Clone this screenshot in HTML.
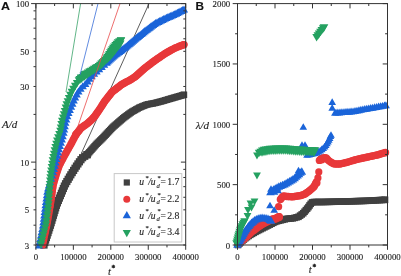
<!DOCTYPE html>
<html><head><meta charset="utf-8"><style>
html,body{margin:0;padding:0;background:#fff;}
svg{display:block;}
text{font-family:"Liberation Serif",serif;fill:#222;stroke:#222;stroke-width:0.12px;}
</style></head><body>
<svg width="401" height="276" viewBox="0 0 401 276">
<rect width="401" height="276" fill="#fff"/>
<line x1="149.00" y1="3.60" x2="81.40" y2="153.30" stroke="#333" stroke-width="0.8"/>
<rect x="40.40" y="241.40" width="7.20" height="7.20" fill="#404040"/>
<rect x="41.20" y="238.93" width="7.20" height="7.20" fill="#404040"/>
<rect x="42.01" y="236.45" width="7.20" height="7.20" fill="#404040"/>
<rect x="42.81" y="233.98" width="7.20" height="7.20" fill="#404040"/>
<rect x="43.61" y="231.51" width="7.20" height="7.20" fill="#404040"/>
<rect x="44.42" y="229.04" width="7.20" height="7.20" fill="#404040"/>
<rect x="45.22" y="226.56" width="7.20" height="7.20" fill="#404040"/>
<rect x="46.03" y="224.09" width="7.20" height="7.20" fill="#404040"/>
<rect x="46.83" y="221.62" width="7.20" height="7.20" fill="#404040"/>
<rect x="47.58" y="219.13" width="7.20" height="7.20" fill="#404040"/>
<rect x="48.33" y="216.64" width="7.20" height="7.20" fill="#404040"/>
<rect x="49.08" y="214.15" width="7.20" height="7.20" fill="#404040"/>
<rect x="49.82" y="211.66" width="7.20" height="7.20" fill="#404040"/>
<rect x="50.57" y="209.17" width="7.20" height="7.20" fill="#404040"/>
<rect x="51.32" y="206.68" width="7.20" height="7.20" fill="#404040"/>
<rect x="52.06" y="204.19" width="7.20" height="7.20" fill="#404040"/>
<rect x="52.81" y="201.70" width="7.20" height="7.20" fill="#404040"/>
<rect x="53.78" y="199.29" width="7.20" height="7.20" fill="#404040"/>
<rect x="54.77" y="196.88" width="7.20" height="7.20" fill="#404040"/>
<rect x="55.77" y="194.48" width="7.20" height="7.20" fill="#404040"/>
<rect x="56.77" y="192.08" width="7.20" height="7.20" fill="#404040"/>
<rect x="57.76" y="189.68" width="7.20" height="7.20" fill="#404040"/>
<rect x="58.76" y="187.28" width="7.20" height="7.20" fill="#404040"/>
<rect x="59.76" y="184.88" width="7.20" height="7.20" fill="#404040"/>
<rect x="60.75" y="182.48" width="7.20" height="7.20" fill="#404040"/>
<rect x="61.93" y="180.16" width="7.20" height="7.20" fill="#404040"/>
<rect x="63.25" y="177.92" width="7.20" height="7.20" fill="#404040"/>
<rect x="64.57" y="175.68" width="7.20" height="7.20" fill="#404040"/>
<rect x="65.89" y="173.45" width="7.20" height="7.20" fill="#404040"/>
<rect x="67.22" y="171.21" width="7.20" height="7.20" fill="#404040"/>
<rect x="68.61" y="169.01" width="7.20" height="7.20" fill="#404040"/>
<rect x="70.00" y="166.82" width="7.20" height="7.20" fill="#404040"/>
<rect x="71.42" y="164.63" width="7.20" height="7.20" fill="#404040"/>
<rect x="72.87" y="162.48" width="7.20" height="7.20" fill="#404040"/>
<rect x="74.32" y="160.32" width="7.20" height="7.20" fill="#404040"/>
<rect x="75.83" y="158.21" width="7.20" height="7.20" fill="#404040"/>
<rect x="77.36" y="156.10" width="7.20" height="7.20" fill="#404040"/>
<rect x="79.01" y="154.12" width="7.20" height="7.20" fill="#404040"/>
<rect x="81.16" y="152.66" width="7.20" height="7.20" fill="#404040"/>
<rect x="83.31" y="151.20" width="7.20" height="7.20" fill="#404040"/>
<rect x="83.60" y="151.00" width="7.20" height="7.20" fill="#404040"/>
<rect x="84.00" y="151.40" width="6.40" height="6.40" fill="#404040"/>
<rect x="85.06" y="150.20" width="6.40" height="6.40" fill="#404040"/>
<rect x="86.11" y="148.99" width="6.40" height="6.40" fill="#404040"/>
<rect x="87.17" y="147.79" width="6.40" height="6.40" fill="#404040"/>
<rect x="88.22" y="146.59" width="6.40" height="6.40" fill="#404040"/>
<rect x="89.28" y="145.39" width="6.40" height="6.40" fill="#404040"/>
<rect x="90.33" y="144.18" width="6.40" height="6.40" fill="#404040"/>
<rect x="91.39" y="142.98" width="6.40" height="6.40" fill="#404040"/>
<rect x="92.44" y="141.78" width="6.40" height="6.40" fill="#404040"/>
<rect x="93.51" y="140.59" width="6.40" height="6.40" fill="#404040"/>
<rect x="94.67" y="139.48" width="6.40" height="6.40" fill="#404040"/>
<rect x="95.82" y="138.37" width="6.40" height="6.40" fill="#404040"/>
<rect x="96.97" y="137.26" width="6.40" height="6.40" fill="#404040"/>
<rect x="98.12" y="136.15" width="6.40" height="6.40" fill="#404040"/>
<rect x="99.26" y="135.02" width="6.40" height="6.40" fill="#404040"/>
<rect x="100.35" y="133.86" width="6.40" height="6.40" fill="#404040"/>
<rect x="101.45" y="132.69" width="6.40" height="6.40" fill="#404040"/>
<rect x="102.54" y="131.53" width="6.40" height="6.40" fill="#404040"/>
<rect x="103.64" y="130.36" width="6.40" height="6.40" fill="#404040"/>
<rect x="104.74" y="129.19" width="6.40" height="6.40" fill="#404040"/>
<rect x="105.83" y="128.03" width="6.40" height="6.40" fill="#404040"/>
<rect x="106.93" y="126.86" width="6.40" height="6.40" fill="#404040"/>
<rect x="108.02" y="125.69" width="6.40" height="6.40" fill="#404040"/>
<rect x="109.12" y="124.53" width="6.40" height="6.40" fill="#404040"/>
<rect x="110.26" y="123.41" width="6.40" height="6.40" fill="#404040"/>
<rect x="111.47" y="122.36" width="6.40" height="6.40" fill="#404040"/>
<rect x="112.68" y="121.32" width="6.40" height="6.40" fill="#404040"/>
<rect x="113.89" y="120.27" width="6.40" height="6.40" fill="#404040"/>
<rect x="115.10" y="119.22" width="6.40" height="6.40" fill="#404040"/>
<rect x="116.31" y="118.18" width="6.40" height="6.40" fill="#404040"/>
<rect x="117.52" y="117.13" width="6.40" height="6.40" fill="#404040"/>
<rect x="118.73" y="116.09" width="6.40" height="6.40" fill="#404040"/>
<rect x="119.94" y="115.04" width="6.40" height="6.40" fill="#404040"/>
<rect x="121.18" y="114.02" width="6.40" height="6.40" fill="#404040"/>
<rect x="122.47" y="113.08" width="6.40" height="6.40" fill="#404040"/>
<rect x="123.76" y="112.13" width="6.40" height="6.40" fill="#404040"/>
<rect x="125.05" y="111.19" width="6.40" height="6.40" fill="#404040"/>
<rect x="126.34" y="110.24" width="6.40" height="6.40" fill="#404040"/>
<rect x="127.63" y="109.29" width="6.40" height="6.40" fill="#404040"/>
<rect x="128.97" y="108.42" width="6.40" height="6.40" fill="#404040"/>
<rect x="130.36" y="107.64" width="6.40" height="6.40" fill="#404040"/>
<rect x="131.76" y="106.86" width="6.40" height="6.40" fill="#404040"/>
<rect x="133.15" y="106.07" width="6.40" height="6.40" fill="#404040"/>
<rect x="134.55" y="105.29" width="6.40" height="6.40" fill="#404040"/>
<rect x="135.94" y="104.50" width="6.40" height="6.40" fill="#404040"/>
<rect x="137.40" y="103.86" width="6.40" height="6.40" fill="#404040"/>
<rect x="138.89" y="103.26" width="6.40" height="6.40" fill="#404040"/>
<rect x="140.37" y="102.67" width="6.40" height="6.40" fill="#404040"/>
<rect x="141.86" y="102.08" width="6.40" height="6.40" fill="#404040"/>
<rect x="143.35" y="101.48" width="6.40" height="6.40" fill="#404040"/>
<rect x="144.89" y="101.10" width="6.40" height="6.40" fill="#404040"/>
<rect x="146.47" y="100.82" width="6.40" height="6.40" fill="#404040"/>
<rect x="148.04" y="100.53" width="6.40" height="6.40" fill="#404040"/>
<rect x="149.62" y="100.25" width="6.40" height="6.40" fill="#404040"/>
<rect x="151.19" y="99.95" width="6.40" height="6.40" fill="#404040"/>
<rect x="152.74" y="99.55" width="6.40" height="6.40" fill="#404040"/>
<rect x="154.29" y="99.16" width="6.40" height="6.40" fill="#404040"/>
<rect x="155.84" y="98.76" width="6.40" height="6.40" fill="#404040"/>
<rect x="157.39" y="98.36" width="6.40" height="6.40" fill="#404040"/>
<rect x="158.94" y="97.96" width="6.40" height="6.40" fill="#404040"/>
<rect x="160.47" y="97.50" width="6.40" height="6.40" fill="#404040"/>
<rect x="162.00" y="97.05" width="6.40" height="6.40" fill="#404040"/>
<rect x="163.54" y="96.59" width="6.40" height="6.40" fill="#404040"/>
<rect x="165.07" y="96.14" width="6.40" height="6.40" fill="#404040"/>
<rect x="166.60" y="95.68" width="6.40" height="6.40" fill="#404040"/>
<rect x="168.14" y="95.24" width="6.40" height="6.40" fill="#404040"/>
<rect x="169.68" y="94.79" width="6.40" height="6.40" fill="#404040"/>
<rect x="171.22" y="94.35" width="6.40" height="6.40" fill="#404040"/>
<rect x="172.75" y="93.90" width="6.40" height="6.40" fill="#404040"/>
<rect x="174.29" y="93.46" width="6.40" height="6.40" fill="#404040"/>
<rect x="175.83" y="93.02" width="6.40" height="6.40" fill="#404040"/>
<rect x="177.37" y="92.58" width="6.40" height="6.40" fill="#404040"/>
<rect x="178.90" y="92.14" width="6.40" height="6.40" fill="#404040"/>
<rect x="180.44" y="91.70" width="6.40" height="6.40" fill="#404040"/>
<rect x="180.80" y="91.60" width="6.40" height="6.40" fill="#404040"/>
<circle cx="42.50" cy="245.00" r="3.70" fill="#e8383a"/>
<circle cx="43.00" cy="242.65" r="3.70" fill="#e8383a"/>
<circle cx="43.51" cy="240.31" r="3.70" fill="#e8383a"/>
<circle cx="44.01" cy="237.96" r="3.70" fill="#e8383a"/>
<circle cx="44.52" cy="235.61" r="3.70" fill="#e8383a"/>
<circle cx="45.02" cy="233.27" r="3.70" fill="#e8383a"/>
<circle cx="45.53" cy="230.92" r="3.70" fill="#e8383a"/>
<circle cx="46.03" cy="228.58" r="3.70" fill="#e8383a"/>
<circle cx="46.54" cy="226.23" r="3.70" fill="#e8383a"/>
<circle cx="47.00" cy="223.87" r="3.70" fill="#e8383a"/>
<circle cx="47.41" cy="221.51" r="3.70" fill="#e8383a"/>
<circle cx="47.82" cy="219.15" r="3.70" fill="#e8383a"/>
<circle cx="48.24" cy="216.78" r="3.70" fill="#e8383a"/>
<circle cx="48.65" cy="214.42" r="3.70" fill="#e8383a"/>
<circle cx="49.07" cy="212.05" r="3.70" fill="#e8383a"/>
<circle cx="49.48" cy="209.69" r="3.70" fill="#e8383a"/>
<circle cx="49.89" cy="207.33" r="3.70" fill="#e8383a"/>
<circle cx="50.31" cy="204.96" r="3.70" fill="#e8383a"/>
<circle cx="50.65" cy="202.59" r="3.70" fill="#e8383a"/>
<circle cx="50.99" cy="200.21" r="3.70" fill="#e8383a"/>
<circle cx="51.34" cy="197.84" r="3.70" fill="#e8383a"/>
<circle cx="51.68" cy="195.46" r="3.70" fill="#e8383a"/>
<circle cx="52.03" cy="193.09" r="3.70" fill="#e8383a"/>
<circle cx="52.37" cy="190.71" r="3.70" fill="#e8383a"/>
<circle cx="52.72" cy="188.34" r="3.70" fill="#e8383a"/>
<circle cx="53.06" cy="185.96" r="3.70" fill="#e8383a"/>
<circle cx="53.59" cy="183.62" r="3.70" fill="#e8383a"/>
<circle cx="54.23" cy="181.31" r="3.70" fill="#e8383a"/>
<circle cx="54.88" cy="179.00" r="3.70" fill="#e8383a"/>
<circle cx="55.53" cy="176.69" r="3.70" fill="#e8383a"/>
<circle cx="56.21" cy="174.39" r="3.70" fill="#e8383a"/>
<circle cx="57.01" cy="172.13" r="3.70" fill="#e8383a"/>
<circle cx="57.80" cy="169.86" r="3.70" fill="#e8383a"/>
<circle cx="58.59" cy="167.60" r="3.70" fill="#e8383a"/>
<circle cx="59.38" cy="165.33" r="3.70" fill="#e8383a"/>
<circle cx="60.46" cy="163.19" r="3.70" fill="#e8383a"/>
<circle cx="61.58" cy="161.07" r="3.70" fill="#e8383a"/>
<circle cx="62.71" cy="158.95" r="3.70" fill="#e8383a"/>
<circle cx="63.83" cy="156.83" r="3.70" fill="#e8383a"/>
<circle cx="64.96" cy="154.71" r="3.70" fill="#e8383a"/>
<circle cx="66.15" cy="152.63" r="3.70" fill="#e8383a"/>
<circle cx="67.34" cy="150.54" r="3.70" fill="#e8383a"/>
<circle cx="68.53" cy="148.46" r="3.70" fill="#e8383a"/>
<circle cx="69.72" cy="146.37" r="3.70" fill="#e8383a"/>
<circle cx="70.88" cy="144.27" r="3.70" fill="#e8383a"/>
<circle cx="72.00" cy="142.15" r="3.70" fill="#e8383a"/>
<circle cx="73.11" cy="140.02" r="3.70" fill="#e8383a"/>
<circle cx="74.22" cy="137.89" r="3.70" fill="#e8383a"/>
<circle cx="75.34" cy="135.77" r="3.70" fill="#e8383a"/>
<circle cx="76.00" cy="134.50" r="3.70" fill="#e8383a"/>
<circle cx="76.00" cy="134.50" r="3.70" fill="#e8383a"/>
<circle cx="76.91" cy="133.31" r="3.70" fill="#e8383a"/>
<circle cx="77.83" cy="132.12" r="3.70" fill="#e8383a"/>
<circle cx="78.74" cy="130.93" r="3.70" fill="#e8383a"/>
<circle cx="79.66" cy="129.74" r="3.70" fill="#e8383a"/>
<circle cx="80.57" cy="128.56" r="3.70" fill="#e8383a"/>
<circle cx="81.65" cy="127.54" r="3.70" fill="#e8383a"/>
<circle cx="82.88" cy="126.68" r="3.70" fill="#e8383a"/>
<circle cx="84.11" cy="125.82" r="3.70" fill="#e8383a"/>
<circle cx="85.34" cy="124.96" r="3.70" fill="#e8383a"/>
<circle cx="86.57" cy="124.10" r="3.70" fill="#e8383a"/>
<circle cx="87.73" cy="123.15" r="3.70" fill="#e8383a"/>
<circle cx="88.85" cy="122.16" r="3.70" fill="#e8383a"/>
<circle cx="89.97" cy="121.16" r="3.70" fill="#e8383a"/>
<circle cx="91.09" cy="120.16" r="3.70" fill="#e8383a"/>
<circle cx="92.15" cy="119.10" r="3.70" fill="#e8383a"/>
<circle cx="93.16" cy="117.99" r="3.70" fill="#e8383a"/>
<circle cx="94.18" cy="116.89" r="3.70" fill="#e8383a"/>
<circle cx="95.16" cy="115.76" r="3.70" fill="#e8383a"/>
<circle cx="96.02" cy="114.53" r="3.70" fill="#e8383a"/>
<circle cx="96.87" cy="113.30" r="3.70" fill="#e8383a"/>
<circle cx="97.73" cy="112.06" r="3.70" fill="#e8383a"/>
<circle cx="98.58" cy="110.83" r="3.70" fill="#e8383a"/>
<circle cx="99.43" cy="109.60" r="3.70" fill="#e8383a"/>
<circle cx="100.25" cy="108.34" r="3.70" fill="#e8383a"/>
<circle cx="101.07" cy="107.08" r="3.70" fill="#e8383a"/>
<circle cx="101.88" cy="105.82" r="3.70" fill="#e8383a"/>
<circle cx="102.70" cy="104.56" r="3.70" fill="#e8383a"/>
<circle cx="103.51" cy="103.30" r="3.70" fill="#e8383a"/>
<circle cx="104.33" cy="102.04" r="3.70" fill="#e8383a"/>
<circle cx="105.16" cy="100.80" r="3.70" fill="#e8383a"/>
<circle cx="106.08" cy="99.61" r="3.70" fill="#e8383a"/>
<circle cx="107.00" cy="98.43" r="3.70" fill="#e8383a"/>
<circle cx="107.92" cy="97.24" r="3.70" fill="#e8383a"/>
<circle cx="108.84" cy="96.06" r="3.70" fill="#e8383a"/>
<circle cx="109.76" cy="94.88" r="3.70" fill="#e8383a"/>
<circle cx="110.68" cy="93.69" r="3.70" fill="#e8383a"/>
<circle cx="111.61" cy="92.51" r="3.70" fill="#e8383a"/>
<circle cx="112.68" cy="91.48" r="3.70" fill="#e8383a"/>
<circle cx="113.86" cy="90.56" r="3.70" fill="#e8383a"/>
<circle cx="115.05" cy="89.64" r="3.70" fill="#e8383a"/>
<circle cx="116.24" cy="88.72" r="3.70" fill="#e8383a"/>
<circle cx="117.42" cy="87.81" r="3.70" fill="#e8383a"/>
<circle cx="118.61" cy="86.89" r="3.70" fill="#e8383a"/>
<circle cx="119.80" cy="85.97" r="3.70" fill="#e8383a"/>
<circle cx="120.98" cy="85.05" r="3.70" fill="#e8383a"/>
<circle cx="122.22" cy="84.22" r="3.70" fill="#e8383a"/>
<circle cx="123.54" cy="83.50" r="3.70" fill="#e8383a"/>
<circle cx="124.86" cy="82.79" r="3.70" fill="#e8383a"/>
<circle cx="126.18" cy="82.07" r="3.70" fill="#e8383a"/>
<circle cx="127.50" cy="81.36" r="3.70" fill="#e8383a"/>
<circle cx="128.82" cy="80.64" r="3.70" fill="#e8383a"/>
<circle cx="130.13" cy="79.92" r="3.70" fill="#e8383a"/>
<circle cx="131.41" cy="79.13" r="3.70" fill="#e8383a"/>
<circle cx="132.68" cy="78.34" r="3.70" fill="#e8383a"/>
<circle cx="133.96" cy="77.55" r="3.70" fill="#e8383a"/>
<circle cx="135.20" cy="76.72" r="3.70" fill="#e8383a"/>
<circle cx="136.32" cy="75.72" r="3.70" fill="#e8383a"/>
<circle cx="137.44" cy="74.73" r="3.70" fill="#e8383a"/>
<circle cx="138.56" cy="73.73" r="3.70" fill="#e8383a"/>
<circle cx="139.68" cy="72.73" r="3.70" fill="#e8383a"/>
<circle cx="140.80" cy="71.73" r="3.70" fill="#e8383a"/>
<circle cx="141.93" cy="70.74" r="3.70" fill="#e8383a"/>
<circle cx="143.05" cy="69.74" r="3.70" fill="#e8383a"/>
<circle cx="144.17" cy="68.74" r="3.70" fill="#e8383a"/>
<circle cx="145.31" cy="67.77" r="3.70" fill="#e8383a"/>
<circle cx="146.50" cy="66.86" r="3.70" fill="#e8383a"/>
<circle cx="147.69" cy="65.95" r="3.70" fill="#e8383a"/>
<circle cx="148.89" cy="65.04" r="3.70" fill="#e8383a"/>
<circle cx="150.08" cy="64.14" r="3.70" fill="#e8383a"/>
<circle cx="151.28" cy="63.23" r="3.70" fill="#e8383a"/>
<circle cx="152.47" cy="62.32" r="3.70" fill="#e8383a"/>
<circle cx="153.67" cy="61.41" r="3.70" fill="#e8383a"/>
<circle cx="154.86" cy="60.51" r="3.70" fill="#e8383a"/>
<circle cx="156.09" cy="59.66" r="3.70" fill="#e8383a"/>
<circle cx="157.34" cy="58.81" r="3.70" fill="#e8383a"/>
<circle cx="158.58" cy="57.97" r="3.70" fill="#e8383a"/>
<circle cx="159.82" cy="57.13" r="3.70" fill="#e8383a"/>
<circle cx="161.06" cy="56.28" r="3.70" fill="#e8383a"/>
<circle cx="162.30" cy="55.44" r="3.70" fill="#e8383a"/>
<circle cx="163.54" cy="54.59" r="3.70" fill="#e8383a"/>
<circle cx="164.78" cy="53.75" r="3.70" fill="#e8383a"/>
<circle cx="166.07" cy="53.00" r="3.70" fill="#e8383a"/>
<circle cx="167.38" cy="52.27" r="3.70" fill="#e8383a"/>
<circle cx="168.69" cy="51.53" r="3.70" fill="#e8383a"/>
<circle cx="170.00" cy="50.80" r="3.70" fill="#e8383a"/>
<circle cx="171.31" cy="50.07" r="3.70" fill="#e8383a"/>
<circle cx="172.62" cy="49.33" r="3.70" fill="#e8383a"/>
<circle cx="173.93" cy="48.60" r="3.70" fill="#e8383a"/>
<circle cx="175.25" cy="47.90" r="3.70" fill="#e8383a"/>
<circle cx="176.66" cy="47.37" r="3.70" fill="#e8383a"/>
<circle cx="178.06" cy="46.84" r="3.70" fill="#e8383a"/>
<circle cx="179.46" cy="46.31" r="3.70" fill="#e8383a"/>
<circle cx="180.87" cy="45.78" r="3.70" fill="#e8383a"/>
<circle cx="182.27" cy="45.25" r="3.70" fill="#e8383a"/>
<circle cx="183.67" cy="44.72" r="3.70" fill="#e8383a"/>
<circle cx="184.00" cy="44.60" r="3.70" fill="#e8383a"/>
<polygon points="34.90,248.57 43.10,248.57 39.00,241.43" fill="#1a64d9"/>
<polygon points="35.57,245.23 43.77,245.23 39.67,238.10" fill="#1a64d9"/>
<polygon points="36.23,241.90 44.43,241.90 40.33,234.77" fill="#1a64d9"/>
<polygon points="36.90,238.57 45.10,238.57 41.00,231.43" fill="#1a64d9"/>
<polygon points="37.57,235.23 45.77,235.23 41.67,228.10" fill="#1a64d9"/>
<polygon points="38.23,231.90 46.43,231.90 42.33,224.76" fill="#1a64d9"/>
<polygon points="38.90,228.56 47.10,228.56 43.00,221.43" fill="#1a64d9"/>
<polygon points="39.32,225.19 47.52,225.19 43.42,218.06" fill="#1a64d9"/>
<polygon points="39.74,221.82 47.94,221.82 43.84,214.68" fill="#1a64d9"/>
<polygon points="40.17,218.44 48.37,218.44 44.27,211.31" fill="#1a64d9"/>
<polygon points="40.59,215.07 48.79,215.07 44.69,207.93" fill="#1a64d9"/>
<polygon points="41.01,211.69 49.21,211.69 45.11,204.56" fill="#1a64d9"/>
<polygon points="41.43,208.32 49.63,208.32 45.53,201.19" fill="#1a64d9"/>
<polygon points="41.88,204.95 50.08,204.95 45.98,197.82" fill="#1a64d9"/>
<polygon points="42.33,201.58 50.53,201.58 46.43,194.45" fill="#1a64d9"/>
<polygon points="42.78,198.21 50.98,198.21 46.88,191.08" fill="#1a64d9"/>
<polygon points="43.23,194.84 51.43,194.84 47.33,187.71" fill="#1a64d9"/>
<polygon points="44.01,191.54 52.21,191.54 48.11,184.41" fill="#1a64d9"/>
<polygon points="44.98,188.28 53.18,188.28 49.08,181.15" fill="#1a64d9"/>
<polygon points="45.96,185.03 54.16,185.03 50.06,177.89" fill="#1a64d9"/>
<polygon points="46.94,181.77 55.14,181.77 51.04,174.64" fill="#1a64d9"/>
<polygon points="47.92,178.51 56.12,178.51 52.02,171.38" fill="#1a64d9"/>
<polygon points="48.89,175.26 57.09,175.26 52.99,168.12" fill="#1a64d9"/>
<polygon points="49.80,171.98 58.00,171.98 53.90,164.85" fill="#1a64d9"/>
<polygon points="50.62,168.68 58.82,168.68 54.72,161.55" fill="#1a64d9"/>
<polygon points="51.45,165.38 59.65,165.38 55.55,158.25" fill="#1a64d9"/>
<polygon points="52.27,162.09 60.47,162.09 56.37,154.95" fill="#1a64d9"/>
<polygon points="53.10,158.79 61.30,158.79 57.20,151.65" fill="#1a64d9"/>
<polygon points="53.92,155.49 62.12,155.49 58.02,148.35" fill="#1a64d9"/>
<polygon points="54.81,152.21 63.01,152.21 58.91,145.07" fill="#1a64d9"/>
<polygon points="55.78,148.95 63.98,148.95 59.88,141.82" fill="#1a64d9"/>
<polygon points="56.76,145.69 64.96,145.69 60.86,138.56" fill="#1a64d9"/>
<polygon points="57.70,142.43 65.90,142.43 61.80,135.29" fill="#1a64d9"/>
<polygon points="58.56,139.14 66.76,139.14 62.66,132.00" fill="#1a64d9"/>
<polygon points="59.43,135.85 67.63,135.85 63.53,128.72" fill="#1a64d9"/>
<polygon points="60.05,132.51 68.25,132.51 64.15,125.37" fill="#1a64d9"/>
<polygon points="60.65,129.16 68.85,129.16 64.75,122.03" fill="#1a64d9"/>
<polygon points="61.26,125.82 69.46,125.82 65.36,118.68" fill="#1a64d9"/>
<polygon points="62.20,122.55 70.40,122.55 66.30,115.42" fill="#1a64d9"/>
<polygon points="63.18,119.30 71.38,119.30 67.28,112.16" fill="#1a64d9"/>
<polygon points="64.40,116.12 72.60,116.12 68.50,108.99" fill="#1a64d9"/>
<polygon points="65.69,112.98 73.89,112.98 69.79,105.84" fill="#1a64d9"/>
<polygon points="66.97,109.83 75.17,109.83 71.07,102.70" fill="#1a64d9"/>
<polygon points="68.28,106.69 76.48,106.69 72.38,99.56" fill="#1a64d9"/>
<polygon points="69.65,103.58 77.85,103.58 73.75,96.44" fill="#1a64d9"/>
<polygon points="71.01,100.46 79.21,100.46 75.11,93.33" fill="#1a64d9"/>
<polygon points="72.62,97.47 80.82,97.47 76.72,90.34" fill="#1a64d9"/>
<polygon points="74.33,94.54 82.53,94.54 78.43,87.40" fill="#1a64d9"/>
<polygon points="76.41,91.87 84.61,91.87 80.51,84.73" fill="#1a64d9"/>
<polygon points="78.67,89.32 86.87,89.32 82.77,82.19" fill="#1a64d9"/>
<polygon points="81.20,87.06 89.40,87.06 85.30,79.92" fill="#1a64d9"/>
<polygon points="83.50,84.60 91.70,84.60 87.60,77.47" fill="#1a64d9"/>
<polygon points="85.31,81.72 93.51,81.72 89.41,74.58" fill="#1a64d9"/>
<polygon points="87.52,79.14 95.72,79.14 91.62,72.01" fill="#1a64d9"/>
<polygon points="89.89,76.71 98.09,76.71 93.99,69.58" fill="#1a64d9"/>
<polygon points="92.46,74.48 100.66,74.48 96.56,67.35" fill="#1a64d9"/>
<polygon points="95.03,72.26 103.23,72.26 99.13,65.12" fill="#1a64d9"/>
<polygon points="97.57,70.00 105.77,70.00 101.67,62.86" fill="#1a64d9"/>
<polygon points="100.07,67.70 108.27,67.70 104.17,60.57" fill="#1a64d9"/>
<polygon points="102.40,65.57 110.60,65.57 106.50,58.43" fill="#1a64d9"/>
<polygon points="102.40,65.57 110.60,65.57 106.50,58.43" fill="#1a64d9"/>
<polygon points="103.51,64.56 111.71,64.56 107.61,57.42" fill="#1a64d9"/>
<polygon points="104.62,63.55 112.82,63.55 108.72,56.41" fill="#1a64d9"/>
<polygon points="105.73,62.54 113.93,62.54 109.83,55.41" fill="#1a64d9"/>
<polygon points="106.84,61.53 115.04,61.53 110.94,54.40" fill="#1a64d9"/>
<polygon points="107.95,60.52 116.15,60.52 112.05,53.39" fill="#1a64d9"/>
<polygon points="109.08,59.54 117.28,59.54 113.18,52.40" fill="#1a64d9"/>
<polygon points="110.21,58.55 118.41,58.55 114.31,51.41" fill="#1a64d9"/>
<polygon points="111.34,57.56 119.54,57.56 115.44,50.43" fill="#1a64d9"/>
<polygon points="112.52,56.64 120.72,56.64 116.62,49.50" fill="#1a64d9"/>
<polygon points="113.75,55.78 121.95,55.78 117.85,48.64" fill="#1a64d9"/>
<polygon points="114.98,54.92 123.18,54.92 119.08,47.79" fill="#1a64d9"/>
<polygon points="116.21,54.06 124.41,54.06 120.31,46.93" fill="#1a64d9"/>
<polygon points="117.41,53.17 125.61,53.17 121.51,46.03" fill="#1a64d9"/>
<polygon points="118.61,52.27 126.81,52.27 122.71,45.14" fill="#1a64d9"/>
<polygon points="119.82,51.37 128.02,51.37 123.92,44.24" fill="#1a64d9"/>
<polygon points="121.01,50.47 129.21,50.47 125.11,43.34" fill="#1a64d9"/>
<polygon points="122.17,49.51 130.37,49.51 126.27,42.38" fill="#1a64d9"/>
<polygon points="123.32,48.55 131.52,48.55 127.42,41.42" fill="#1a64d9"/>
<polygon points="124.47,47.59 132.67,47.59 128.57,40.46" fill="#1a64d9"/>
<polygon points="125.62,46.63 133.82,46.63 129.72,39.50" fill="#1a64d9"/>
<polygon points="126.78,45.67 134.98,45.67 130.88,38.54" fill="#1a64d9"/>
<polygon points="127.93,44.71 136.13,44.71 132.03,37.58" fill="#1a64d9"/>
<polygon points="129.08,43.75 137.28,43.75 133.18,36.62" fill="#1a64d9"/>
<polygon points="130.23,42.79 138.43,42.79 134.33,35.66" fill="#1a64d9"/>
<polygon points="131.39,41.83 139.59,41.83 135.49,34.70" fill="#1a64d9"/>
<polygon points="132.54,40.87 140.74,40.87 136.64,33.73" fill="#1a64d9"/>
<polygon points="133.70,39.92 141.90,39.92 137.80,32.78" fill="#1a64d9"/>
<polygon points="134.86,38.97 143.06,38.97 138.96,31.84" fill="#1a64d9"/>
<polygon points="136.03,38.03 144.23,38.03 140.13,30.89" fill="#1a64d9"/>
<polygon points="137.19,37.08 145.39,37.08 141.29,29.95" fill="#1a64d9"/>
<polygon points="138.35,36.14 146.55,36.14 142.45,29.00" fill="#1a64d9"/>
<polygon points="139.52,35.19 147.72,35.19 143.62,28.06" fill="#1a64d9"/>
<polygon points="140.68,34.24 148.88,34.24 144.78,27.11" fill="#1a64d9"/>
<polygon points="141.88,33.33 150.08,33.33 145.98,26.20" fill="#1a64d9"/>
<polygon points="143.08,32.43 151.28,32.43 147.18,25.30" fill="#1a64d9"/>
<polygon points="144.28,31.53 152.48,31.53 148.38,24.40" fill="#1a64d9"/>
<polygon points="145.48,30.63 153.68,30.63 149.58,23.50" fill="#1a64d9"/>
<polygon points="146.68,29.73 154.88,29.73 150.78,22.60" fill="#1a64d9"/>
<polygon points="147.88,28.83 156.08,28.83 151.98,21.70" fill="#1a64d9"/>
<polygon points="149.08,27.93 157.28,27.93 153.18,20.80" fill="#1a64d9"/>
<polygon points="150.28,27.03 158.48,27.03 154.38,19.90" fill="#1a64d9"/>
<polygon points="151.54,26.24 159.74,26.24 155.64,19.11" fill="#1a64d9"/>
<polygon points="152.89,25.57 161.09,25.57 156.99,18.44" fill="#1a64d9"/>
<polygon points="154.23,24.90 162.43,24.90 158.33,17.77" fill="#1a64d9"/>
<polygon points="155.57,24.23 163.77,24.23 159.67,17.10" fill="#1a64d9"/>
<polygon points="156.91,23.56 165.11,23.56 161.01,16.43" fill="#1a64d9"/>
<polygon points="158.25,22.89 166.45,22.89 162.35,15.76" fill="#1a64d9"/>
<polygon points="159.59,22.22 167.79,22.22 163.69,15.09" fill="#1a64d9"/>
<polygon points="160.94,21.55 169.14,21.55 165.04,14.42" fill="#1a64d9"/>
<polygon points="162.31,20.95 170.51,20.95 166.41,13.81" fill="#1a64d9"/>
<polygon points="163.68,20.34 171.88,20.34 167.78,13.21" fill="#1a64d9"/>
<polygon points="165.06,19.74 173.26,19.74 169.16,12.60" fill="#1a64d9"/>
<polygon points="166.43,19.13 174.63,19.13 170.53,12.00" fill="#1a64d9"/>
<polygon points="167.80,18.53 176.00,18.53 171.90,11.40" fill="#1a64d9"/>
<polygon points="169.17,17.93 177.37,17.93 173.27,10.79" fill="#1a64d9"/>
<polygon points="170.55,17.32 178.75,17.32 174.65,10.19" fill="#1a64d9"/>
<polygon points="171.89,16.66 180.09,16.66 175.99,9.53" fill="#1a64d9"/>
<polygon points="173.23,15.98 181.43,15.98 177.33,8.84" fill="#1a64d9"/>
<polygon points="174.56,15.29 182.76,15.29 178.66,8.16" fill="#1a64d9"/>
<polygon points="175.90,14.61 184.10,14.61 180.00,7.48" fill="#1a64d9"/>
<polygon points="177.24,13.93 185.44,13.93 181.34,6.79" fill="#1a64d9"/>
<polygon points="178.57,13.25 186.77,13.25 182.67,6.11" fill="#1a64d9"/>
<polygon points="179.90,12.57 188.10,12.57 184.00,5.43" fill="#1a64d9"/>
<polygon points="36.80,241.35 45.20,241.35 41.00,248.65" fill="#24a160"/>
<polygon points="37.62,238.05 46.02,238.05 41.82,245.36" fill="#24a160"/>
<polygon points="38.45,234.75 46.85,234.75 42.65,242.06" fill="#24a160"/>
<polygon points="39.27,231.45 47.67,231.45 43.47,238.76" fill="#24a160"/>
<polygon points="40.10,228.15 48.50,228.15 44.30,235.46" fill="#24a160"/>
<polygon points="40.92,224.85 49.32,224.85 45.12,232.16" fill="#24a160"/>
<polygon points="41.75,221.56 50.15,221.56 45.95,228.86" fill="#24a160"/>
<polygon points="42.19,218.19 50.59,218.19 46.39,225.49" fill="#24a160"/>
<polygon points="42.62,214.81 51.02,214.81 46.82,222.12" fill="#24a160"/>
<polygon points="43.04,211.44 51.44,211.44 47.24,218.75" fill="#24a160"/>
<polygon points="43.46,208.06 51.86,208.06 47.66,215.37" fill="#24a160"/>
<polygon points="43.88,204.69 52.28,204.69 48.08,212.00" fill="#24a160"/>
<polygon points="44.30,201.32 52.70,201.32 48.50,208.63" fill="#24a160"/>
<polygon points="44.53,197.92 52.93,197.92 48.73,205.23" fill="#24a160"/>
<polygon points="44.75,194.53 53.15,194.53 48.95,201.84" fill="#24a160"/>
<polygon points="44.98,191.14 53.38,191.14 49.18,198.45" fill="#24a160"/>
<polygon points="45.21,187.75 53.61,187.75 49.41,195.06" fill="#24a160"/>
<polygon points="45.47,184.36 53.87,184.36 49.67,191.67" fill="#24a160"/>
<polygon points="45.77,180.97 54.17,180.97 49.97,188.28" fill="#24a160"/>
<polygon points="46.06,177.58 54.46,177.58 50.26,184.89" fill="#24a160"/>
<polygon points="46.35,174.20 54.75,174.20 50.55,181.50" fill="#24a160"/>
<polygon points="46.68,170.81 55.08,170.81 50.88,178.12" fill="#24a160"/>
<polygon points="47.17,167.45 55.57,167.45 51.37,174.76" fill="#24a160"/>
<polygon points="47.67,164.08 56.07,164.08 51.87,171.39" fill="#24a160"/>
<polygon points="48.16,160.72 56.56,160.72 52.36,168.03" fill="#24a160"/>
<polygon points="48.65,157.36 57.05,157.36 52.85,164.66" fill="#24a160"/>
<polygon points="49.27,154.01 57.67,154.01 53.47,161.32" fill="#24a160"/>
<polygon points="49.93,150.68 58.33,150.68 54.13,157.99" fill="#24a160"/>
<polygon points="50.60,147.35 59.00,147.35 54.80,154.65" fill="#24a160"/>
<polygon points="51.38,144.04 59.78,144.04 55.58,151.34" fill="#24a160"/>
<polygon points="52.20,140.74 60.60,140.74 56.40,148.05" fill="#24a160"/>
<polygon points="53.03,137.44 61.43,137.44 57.23,144.75" fill="#24a160"/>
<polygon points="54.05,134.20 62.45,134.20 58.25,141.51" fill="#24a160"/>
<polygon points="55.17,130.99 63.57,130.99 59.37,138.30" fill="#24a160"/>
<polygon points="56.20,127.76 64.60,127.76 60.40,135.07" fill="#24a160"/>
<polygon points="56.77,124.41 65.17,124.41 60.97,131.71" fill="#24a160"/>
<polygon points="57.34,121.05 65.74,121.05 61.54,128.36" fill="#24a160"/>
<polygon points="57.98,117.72 66.38,117.72 62.18,125.03" fill="#24a160"/>
<polygon points="58.91,114.45 67.31,114.45 63.11,121.76" fill="#24a160"/>
<polygon points="59.85,111.18 68.25,111.18 64.05,118.49" fill="#24a160"/>
<polygon points="60.74,107.90 69.14,107.90 64.94,115.21" fill="#24a160"/>
<polygon points="61.63,104.62 70.03,104.62 65.83,111.93" fill="#24a160"/>
<polygon points="62.53,101.34 70.93,101.34 66.73,108.65" fill="#24a160"/>
<polygon points="63.63,98.13 72.03,98.13 67.83,105.43" fill="#24a160"/>
<polygon points="64.83,94.94 73.23,94.94 69.03,102.25" fill="#24a160"/>
<polygon points="66.08,91.78 74.48,91.78 70.28,99.09" fill="#24a160"/>
<polygon points="67.60,88.74 76.00,88.74 71.80,96.05" fill="#24a160"/>
<polygon points="69.12,85.70 77.52,85.70 73.32,93.01" fill="#24a160"/>
<polygon points="70.96,82.85 79.36,82.85 75.16,90.16" fill="#24a160"/>
<polygon points="72.85,80.02 81.25,80.02 77.05,87.33" fill="#24a160"/>
<polygon points="74.67,77.15 83.07,77.15 78.87,84.46" fill="#24a160"/>
<polygon points="76.79,74.55 85.19,74.55 80.99,81.86" fill="#24a160"/>
<polygon points="79.45,72.43 87.85,72.43 83.65,79.73" fill="#24a160"/>
<polygon points="80.80,71.35 89.20,71.35 85.00,78.65" fill="#24a160"/>
<polygon points="80.80,71.35 89.20,71.35 85.00,78.65" fill="#24a160"/>
<polygon points="82.34,70.42 90.74,70.42 86.54,77.73" fill="#24a160"/>
<polygon points="83.89,69.49 92.29,69.49 88.09,76.80" fill="#24a160"/>
<polygon points="85.43,68.57 93.83,68.57 89.63,75.88" fill="#24a160"/>
<polygon points="86.97,67.64 95.37,67.64 91.17,74.95" fill="#24a160"/>
<polygon points="88.52,66.72 96.92,66.72 92.72,74.02" fill="#24a160"/>
<polygon points="90.06,65.79 98.46,65.79 94.26,73.10" fill="#24a160"/>
<polygon points="91.60,64.86 100.00,64.86 95.80,72.17" fill="#24a160"/>
<polygon points="93.15,63.94 101.55,63.94 97.35,71.25" fill="#24a160"/>
<polygon points="94.69,63.01 103.09,63.01 98.89,70.32" fill="#24a160"/>
<polygon points="96.16,61.99 104.56,61.99 100.36,69.30" fill="#24a160"/>
<polygon points="97.43,60.71 105.83,60.71 101.63,68.02" fill="#24a160"/>
<polygon points="98.70,59.44 107.10,59.44 102.90,66.75" fill="#24a160"/>
<polygon points="99.98,58.17 108.38,58.17 104.18,65.48" fill="#24a160"/>
<polygon points="101.25,56.90 109.65,56.90 105.45,64.20" fill="#24a160"/>
<polygon points="102.34,55.48 110.74,55.48 106.54,62.78" fill="#24a160"/>
<polygon points="103.28,53.94 111.68,53.94 107.48,61.25" fill="#24a160"/>
<polygon points="104.22,52.41 112.62,52.41 108.42,59.72" fill="#24a160"/>
<polygon points="105.17,50.88 113.57,50.88 109.37,58.18" fill="#24a160"/>
<polygon points="106.13,49.36 114.53,49.36 110.33,56.66" fill="#24a160"/>
<polygon points="107.13,47.86 115.53,47.86 111.33,55.17" fill="#24a160"/>
<polygon points="108.12,46.36 116.52,46.36 112.32,53.67" fill="#24a160"/>
<polygon points="109.12,44.86 117.52,44.86 113.32,52.17" fill="#24a160"/>
<polygon points="110.18,43.41 118.58,43.41 114.38,50.72" fill="#24a160"/>
<polygon points="111.37,42.06 119.77,42.06 115.57,49.37" fill="#24a160"/>
<polygon points="112.56,40.71 120.96,40.71 116.76,48.01" fill="#24a160"/>
<polygon points="113.74,39.35 122.14,39.35 117.94,46.66" fill="#24a160"/>
<polygon points="115.18,38.30 123.58,38.30 119.38,45.61" fill="#24a160"/>
<polygon points="116.73,37.39 125.13,37.39 120.93,44.69" fill="#24a160"/>
<polygon points="116.80,37.35 125.20,37.35 121.00,44.65" fill="#24a160"/>
<polygon points="75.50,76.08 84.50,76.08 80.00,83.92" fill="#24a160"/>
<polygon points="76.97,75.05 85.97,75.05 81.47,82.88" fill="#24a160"/>
<polygon points="78.45,74.02 87.45,74.02 82.95,81.85" fill="#24a160"/>
<polygon points="79.92,72.99 88.92,72.99 84.42,80.82" fill="#24a160"/>
<polygon points="81.40,71.96 90.40,71.96 85.90,79.79" fill="#24a160"/>
<polygon points="82.87,70.92 91.87,70.92 87.37,78.75" fill="#24a160"/>
<polygon points="84.35,69.89 93.35,69.89 88.85,77.72" fill="#24a160"/>
<polygon points="85.83,68.87 94.83,68.87 90.33,76.70" fill="#24a160"/>
<polygon points="87.34,67.89 96.34,67.89 91.84,75.72" fill="#24a160"/>
<polygon points="88.85,66.91 97.85,66.91 93.35,74.74" fill="#24a160"/>
<polygon points="90.36,65.93 99.36,65.93 94.86,73.76" fill="#24a160"/>
<polygon points="91.87,64.95 100.87,64.95 96.37,72.78" fill="#24a160"/>
<polygon points="93.38,63.97 102.38,63.97 97.88,71.80" fill="#24a160"/>
<polygon points="94.89,62.98 103.89,62.98 99.39,70.81" fill="#24a160"/>
<polygon points="96.25,61.83 105.25,61.83 100.75,69.66" fill="#24a160"/>
<polygon points="97.53,60.56 106.53,60.56 102.03,68.39" fill="#24a160"/>
<polygon points="98.80,59.29 107.80,59.29 103.30,67.12" fill="#24a160"/>
<polygon points="100.07,58.01 109.07,58.01 104.57,65.84" fill="#24a160"/>
<polygon points="101.37,56.76 110.37,56.76 105.87,64.59" fill="#24a160"/>
<polygon points="102.71,55.56 111.71,55.56 107.21,63.39" fill="#24a160"/>
<polygon points="104.06,54.37 113.06,54.37 108.56,62.20" fill="#24a160"/>
<polygon points="105.40,53.17 114.40,53.17 109.90,61.00" fill="#24a160"/>
<polygon points="106.54,51.78 115.54,51.78 111.04,59.61" fill="#24a160"/>
<polygon points="107.67,50.38 116.67,50.38 112.17,58.21" fill="#24a160"/>
<polygon points="108.79,48.97 117.79,48.97 113.29,56.80" fill="#24a160"/>
<polygon points="109.92,47.57 118.92,47.57 114.42,55.40" fill="#24a160"/>
<polygon points="111.04,46.16 120.04,46.16 115.54,53.99" fill="#24a160"/>
<polygon points="112.16,44.75 121.16,44.75 116.66,52.58" fill="#24a160"/>
<polygon points="113.29,43.35 122.29,43.35 117.79,51.18" fill="#24a160"/>
<polygon points="114.41,41.94 123.41,41.94 118.91,49.77" fill="#24a160"/>
<polygon points="115.50,40.59 124.50,40.59 120.00,48.41" fill="#24a160"/>
<rect x="114.2" y="173.6" width="67.6" height="68.4" fill="#fff" stroke="#c8c8c8" stroke-width="1"/>
<rect x="123.70" y="179.40" width="6.20" height="6.20" fill="#404040"/>
<text x="139.3" y="185.40" font-size="9.6" style="font-style:italic">u</text>
<text x="145.6" y="180.00" font-size="6.5">*</text>
<text x="148.2" y="185.40" font-size="9.6" style="font-style:italic">/u</text>
<text x="157.6" y="180.00" font-size="6.5">*</text>
<text x="156.4" y="187.60" font-size="6.5" style="font-style:italic">d</text>
<text x="160.4" y="185.40" font-size="9.6">=</text>
<text x="167.2" y="185.40" font-size="9.8">1.7</text>
<circle cx="126.80" cy="199.15" r="3.50" fill="#e8383a"/>
<text x="139.3" y="202.00" font-size="9.6" style="font-style:italic">u</text>
<text x="145.6" y="196.60" font-size="6.5">*</text>
<text x="148.2" y="202.00" font-size="9.6" style="font-style:italic">/u</text>
<text x="157.6" y="196.60" font-size="6.5">*</text>
<text x="156.4" y="204.20" font-size="6.5" style="font-style:italic">d</text>
<text x="160.4" y="202.00" font-size="9.6">=</text>
<text x="167.2" y="202.00" font-size="9.8">2.2</text>
<polygon points="122.70,218.18 130.90,218.18 126.80,211.04" fill="#1a64d9"/>
<text x="139.3" y="218.60" font-size="9.6" style="font-style:italic">u</text>
<text x="145.6" y="213.20" font-size="6.5">*</text>
<text x="148.2" y="218.60" font-size="9.6" style="font-style:italic">/u</text>
<text x="157.6" y="213.20" font-size="6.5">*</text>
<text x="156.4" y="220.80" font-size="6.5" style="font-style:italic">d</text>
<text x="160.4" y="218.60" font-size="9.6">=</text>
<text x="167.2" y="218.60" font-size="9.8">2.8</text>
<polygon points="122.70,230.07 130.90,230.07 126.80,237.21" fill="#24a160"/>
<text x="139.3" y="235.20" font-size="9.6" style="font-style:italic">u</text>
<text x="145.6" y="229.80" font-size="6.5">*</text>
<text x="148.2" y="235.20" font-size="9.6" style="font-style:italic">/u</text>
<text x="157.6" y="229.80" font-size="6.5">*</text>
<text x="156.4" y="237.40" font-size="6.5" style="font-style:italic">d</text>
<text x="160.4" y="235.20" font-size="9.6">=</text>
<text x="167.2" y="235.20" font-size="9.8">3.4</text>
<rect x="234.70" y="241.70" width="6.60" height="6.60" fill="#404040"/>
<rect x="236.11" y="240.29" width="6.60" height="6.60" fill="#404040"/>
<rect x="237.53" y="238.87" width="6.60" height="6.60" fill="#404040"/>
<rect x="239.03" y="237.55" width="6.60" height="6.60" fill="#404040"/>
<rect x="240.54" y="236.23" width="6.60" height="6.60" fill="#404040"/>
<rect x="242.04" y="234.92" width="6.60" height="6.60" fill="#404040"/>
<rect x="243.67" y="233.76" width="6.60" height="6.60" fill="#404040"/>
<rect x="245.33" y="232.64" width="6.60" height="6.60" fill="#404040"/>
<rect x="246.99" y="231.53" width="6.60" height="6.60" fill="#404040"/>
<rect x="248.72" y="230.53" width="6.60" height="6.60" fill="#404040"/>
<rect x="250.46" y="229.53" width="6.60" height="6.60" fill="#404040"/>
<rect x="252.20" y="228.55" width="6.60" height="6.60" fill="#404040"/>
<rect x="253.97" y="227.62" width="6.60" height="6.60" fill="#404040"/>
<rect x="255.74" y="226.70" width="6.60" height="6.60" fill="#404040"/>
<rect x="257.52" y="225.79" width="6.60" height="6.60" fill="#404040"/>
<rect x="259.31" y="224.89" width="6.60" height="6.60" fill="#404040"/>
<rect x="261.10" y="224.00" width="6.60" height="6.60" fill="#404040"/>
<rect x="262.89" y="223.10" width="6.60" height="6.60" fill="#404040"/>
<rect x="264.68" y="222.21" width="6.60" height="6.60" fill="#404040"/>
<rect x="266.47" y="221.32" width="6.60" height="6.60" fill="#404040"/>
<rect x="268.25" y="220.41" width="6.60" height="6.60" fill="#404040"/>
<rect x="270.03" y="219.50" width="6.60" height="6.60" fill="#404040"/>
<rect x="271.82" y="218.60" width="6.60" height="6.60" fill="#404040"/>
<rect x="273.69" y="217.93" width="6.60" height="6.60" fill="#404040"/>
<rect x="275.63" y="217.44" width="6.60" height="6.60" fill="#404040"/>
<rect x="277.57" y="216.96" width="6.60" height="6.60" fill="#404040"/>
<rect x="279.51" y="216.47" width="6.60" height="6.60" fill="#404040"/>
<rect x="281.45" y="215.99" width="6.60" height="6.60" fill="#404040"/>
<rect x="283.39" y="215.50" width="6.60" height="6.60" fill="#404040"/>
<rect x="285.38" y="215.34" width="6.60" height="6.60" fill="#404040"/>
<rect x="287.38" y="215.18" width="6.60" height="6.60" fill="#404040"/>
<rect x="289.37" y="215.03" width="6.60" height="6.60" fill="#404040"/>
<rect x="291.31" y="214.56" width="6.60" height="6.60" fill="#404040"/>
<rect x="293.24" y="214.03" width="6.60" height="6.60" fill="#404040"/>
<rect x="295.17" y="213.51" width="6.60" height="6.60" fill="#404040"/>
<rect x="296.79" y="212.34" width="6.60" height="6.60" fill="#404040"/>
<rect x="298.40" y="211.15" width="6.60" height="6.60" fill="#404040"/>
<rect x="299.95" y="209.91" width="6.60" height="6.60" fill="#404040"/>
<rect x="301.25" y="208.39" width="6.60" height="6.60" fill="#404040"/>
<rect x="302.56" y="206.87" width="6.60" height="6.60" fill="#404040"/>
<rect x="303.84" y="205.33" width="6.60" height="6.60" fill="#404040"/>
<rect x="305.12" y="203.80" width="6.60" height="6.60" fill="#404040"/>
<rect x="306.24" y="202.14" width="6.60" height="6.60" fill="#404040"/>
<rect x="307.39" y="200.51" width="6.60" height="6.60" fill="#404040"/>
<rect x="308.80" y="199.10" width="6.60" height="6.60" fill="#404040"/>
<rect x="310.64" y="198.70" width="6.60" height="6.60" fill="#404040"/>
<rect x="312.64" y="198.70" width="6.60" height="6.60" fill="#404040"/>
<rect x="314.64" y="198.70" width="6.60" height="6.60" fill="#404040"/>
<rect x="316.64" y="198.70" width="6.60" height="6.60" fill="#404040"/>
<rect x="318.64" y="198.70" width="6.60" height="6.60" fill="#404040"/>
<rect x="320.64" y="198.66" width="6.60" height="6.60" fill="#404040"/>
<rect x="322.64" y="198.61" width="6.60" height="6.60" fill="#404040"/>
<rect x="324.64" y="198.57" width="6.60" height="6.60" fill="#404040"/>
<rect x="326.64" y="198.53" width="6.60" height="6.60" fill="#404040"/>
<rect x="328.64" y="198.48" width="6.60" height="6.60" fill="#404040"/>
<rect x="330.64" y="198.44" width="6.60" height="6.60" fill="#404040"/>
<rect x="332.64" y="198.40" width="6.60" height="6.60" fill="#404040"/>
<rect x="334.64" y="198.35" width="6.60" height="6.60" fill="#404040"/>
<rect x="336.63" y="198.31" width="6.60" height="6.60" fill="#404040"/>
<rect x="338.63" y="198.27" width="6.60" height="6.60" fill="#404040"/>
<rect x="340.63" y="198.22" width="6.60" height="6.60" fill="#404040"/>
<rect x="342.63" y="198.17" width="6.60" height="6.60" fill="#404040"/>
<rect x="344.63" y="198.11" width="6.60" height="6.60" fill="#404040"/>
<rect x="346.63" y="198.04" width="6.60" height="6.60" fill="#404040"/>
<rect x="348.63" y="197.98" width="6.60" height="6.60" fill="#404040"/>
<rect x="350.63" y="197.92" width="6.60" height="6.60" fill="#404040"/>
<rect x="352.63" y="197.85" width="6.60" height="6.60" fill="#404040"/>
<rect x="354.63" y="197.79" width="6.60" height="6.60" fill="#404040"/>
<rect x="356.63" y="197.73" width="6.60" height="6.60" fill="#404040"/>
<rect x="358.63" y="197.66" width="6.60" height="6.60" fill="#404040"/>
<rect x="360.62" y="197.60" width="6.60" height="6.60" fill="#404040"/>
<rect x="362.62" y="197.53" width="6.60" height="6.60" fill="#404040"/>
<rect x="364.62" y="197.45" width="6.60" height="6.60" fill="#404040"/>
<rect x="366.62" y="197.34" width="6.60" height="6.60" fill="#404040"/>
<rect x="368.62" y="197.23" width="6.60" height="6.60" fill="#404040"/>
<rect x="370.61" y="197.12" width="6.60" height="6.60" fill="#404040"/>
<rect x="372.61" y="197.01" width="6.60" height="6.60" fill="#404040"/>
<rect x="374.61" y="196.89" width="6.60" height="6.60" fill="#404040"/>
<rect x="376.60" y="196.78" width="6.60" height="6.60" fill="#404040"/>
<rect x="378.60" y="196.67" width="6.60" height="6.60" fill="#404040"/>
<rect x="380.60" y="196.56" width="6.60" height="6.60" fill="#404040"/>
<rect x="381.70" y="196.50" width="6.60" height="6.60" fill="#404040"/>
<circle cx="238.00" cy="244.00" r="4.00" fill="#e8383a"/>
<circle cx="239.13" cy="242.87" r="4.00" fill="#e8383a"/>
<circle cx="240.29" cy="241.76" r="4.00" fill="#e8383a"/>
<circle cx="241.51" cy="240.74" r="4.00" fill="#e8383a"/>
<circle cx="242.74" cy="239.71" r="4.00" fill="#e8383a"/>
<circle cx="243.95" cy="238.67" r="4.00" fill="#e8383a"/>
<circle cx="245.16" cy="237.61" r="4.00" fill="#e8383a"/>
<circle cx="246.36" cy="236.56" r="4.00" fill="#e8383a"/>
<circle cx="247.53" cy="235.47" r="4.00" fill="#e8383a"/>
<circle cx="248.66" cy="234.34" r="4.00" fill="#e8383a"/>
<circle cx="249.79" cy="233.21" r="4.00" fill="#e8383a"/>
<circle cx="250.93" cy="232.07" r="4.00" fill="#e8383a"/>
<circle cx="252.20" cy="231.10" r="4.00" fill="#e8383a"/>
<circle cx="253.48" cy="230.14" r="4.00" fill="#e8383a"/>
<circle cx="254.76" cy="229.18" r="4.00" fill="#e8383a"/>
<circle cx="256.04" cy="228.22" r="4.00" fill="#e8383a"/>
<circle cx="257.32" cy="227.26" r="4.00" fill="#e8383a"/>
<circle cx="258.60" cy="226.30" r="4.00" fill="#e8383a"/>
<circle cx="259.93" cy="225.42" r="4.00" fill="#e8383a"/>
<circle cx="261.28" cy="224.57" r="4.00" fill="#e8383a"/>
<circle cx="262.64" cy="223.72" r="4.00" fill="#e8383a"/>
<circle cx="264.05" cy="222.97" r="4.00" fill="#e8383a"/>
<circle cx="265.48" cy="222.26" r="4.00" fill="#e8383a"/>
<circle cx="266.92" cy="221.54" r="4.00" fill="#e8383a"/>
<circle cx="268.36" cy="220.86" r="4.00" fill="#e8383a"/>
<circle cx="269.86" cy="220.30" r="4.00" fill="#e8383a"/>
<circle cx="271.36" cy="219.74" r="4.00" fill="#e8383a"/>
<circle cx="272.89" cy="219.28" r="4.00" fill="#e8383a"/>
<circle cx="274.44" cy="218.89" r="4.00" fill="#e8383a"/>
<circle cx="275.99" cy="218.50" r="4.00" fill="#e8383a"/>
<circle cx="277.42" cy="217.79" r="4.00" fill="#e8383a"/>
<circle cx="278.86" cy="217.07" r="4.00" fill="#e8383a"/>
<circle cx="279.00" cy="217.00" r="4.00" fill="#e8383a"/>
<circle cx="280.40" cy="199.50" r="3.70" fill="#e8383a"/>
<circle cx="281.38" cy="198.23" r="3.70" fill="#e8383a"/>
<circle cx="282.35" cy="196.97" r="3.70" fill="#e8383a"/>
<circle cx="283.48" cy="196.05" r="3.70" fill="#e8383a"/>
<circle cx="285.06" cy="196.25" r="3.70" fill="#e8383a"/>
<circle cx="286.65" cy="196.46" r="3.70" fill="#e8383a"/>
<circle cx="288.25" cy="196.57" r="3.70" fill="#e8383a"/>
<circle cx="289.84" cy="196.66" r="3.70" fill="#e8383a"/>
<circle cx="291.44" cy="196.76" r="3.70" fill="#e8383a"/>
<circle cx="293.03" cy="196.70" r="3.70" fill="#e8383a"/>
<circle cx="294.62" cy="196.50" r="3.70" fill="#e8383a"/>
<circle cx="296.21" cy="196.30" r="3.70" fill="#e8383a"/>
<circle cx="297.79" cy="196.07" r="3.70" fill="#e8383a"/>
<circle cx="299.37" cy="195.81" r="3.70" fill="#e8383a"/>
<circle cx="300.95" cy="195.54" r="3.70" fill="#e8383a"/>
<circle cx="302.45" cy="195.01" r="3.70" fill="#e8383a"/>
<circle cx="303.94" cy="194.42" r="3.70" fill="#e8383a"/>
<circle cx="305.37" cy="193.73" r="3.70" fill="#e8383a"/>
<circle cx="306.67" cy="192.80" r="3.70" fill="#e8383a"/>
<circle cx="307.98" cy="191.87" r="3.70" fill="#e8383a"/>
<circle cx="309.24" cy="190.89" r="3.70" fill="#e8383a"/>
<circle cx="310.46" cy="189.86" r="3.70" fill="#e8383a"/>
<circle cx="311.69" cy="188.83" r="3.70" fill="#e8383a"/>
<circle cx="312.87" cy="187.75" r="3.70" fill="#e8383a"/>
<circle cx="313.99" cy="186.63" r="3.70" fill="#e8383a"/>
<circle cx="314.76" cy="185.22" r="3.70" fill="#e8383a"/>
<circle cx="315.52" cy="183.81" r="3.70" fill="#e8383a"/>
<circle cx="316.28" cy="182.41" r="3.70" fill="#e8383a"/>
<circle cx="316.50" cy="182.00" r="3.70" fill="#e8383a"/>
<circle cx="316.90" cy="182.90" r="3.60" fill="#e8383a"/>
<circle cx="317.90" cy="177.90" r="3.60" fill="#e8383a"/>
<circle cx="318.80" cy="171.90" r="3.60" fill="#e8383a"/>
<circle cx="321.80" cy="160.00" r="3.60" fill="#e8383a"/>
<circle cx="278.60" cy="206.70" r="3.60" fill="#e8383a"/>
<circle cx="319.40" cy="160.40" r="3.70" fill="#e8383a"/>
<circle cx="320.58" cy="159.31" r="3.70" fill="#e8383a"/>
<circle cx="321.75" cy="158.23" r="3.70" fill="#e8383a"/>
<circle cx="323.25" cy="157.83" r="3.70" fill="#e8383a"/>
<circle cx="324.84" cy="157.62" r="3.70" fill="#e8383a"/>
<circle cx="326.20" cy="158.03" r="3.70" fill="#e8383a"/>
<circle cx="327.30" cy="159.19" r="3.70" fill="#e8383a"/>
<circle cx="328.39" cy="160.36" r="3.70" fill="#e8383a"/>
<circle cx="329.62" cy="161.37" r="3.70" fill="#e8383a"/>
<circle cx="330.99" cy="162.19" r="3.70" fill="#e8383a"/>
<circle cx="332.36" cy="163.02" r="3.70" fill="#e8383a"/>
<circle cx="333.73" cy="163.84" r="3.70" fill="#e8383a"/>
<circle cx="335.29" cy="164.00" r="3.70" fill="#e8383a"/>
<circle cx="336.89" cy="164.00" r="3.70" fill="#e8383a"/>
<circle cx="338.49" cy="164.00" r="3.70" fill="#e8383a"/>
<circle cx="340.08" cy="163.98" r="3.70" fill="#e8383a"/>
<circle cx="341.64" cy="163.60" r="3.70" fill="#e8383a"/>
<circle cx="343.19" cy="163.22" r="3.70" fill="#e8383a"/>
<circle cx="344.75" cy="162.84" r="3.70" fill="#e8383a"/>
<circle cx="346.30" cy="162.46" r="3.70" fill="#e8383a"/>
<circle cx="347.86" cy="162.08" r="3.70" fill="#e8383a"/>
<circle cx="349.39" cy="161.62" r="3.70" fill="#e8383a"/>
<circle cx="350.91" cy="161.12" r="3.70" fill="#e8383a"/>
<circle cx="352.43" cy="160.63" r="3.70" fill="#e8383a"/>
<circle cx="353.95" cy="160.14" r="3.70" fill="#e8383a"/>
<circle cx="355.49" cy="159.69" r="3.70" fill="#e8383a"/>
<circle cx="357.05" cy="159.35" r="3.70" fill="#e8383a"/>
<circle cx="358.61" cy="159.00" r="3.70" fill="#e8383a"/>
<circle cx="360.17" cy="158.66" r="3.70" fill="#e8383a"/>
<circle cx="361.74" cy="158.31" r="3.70" fill="#e8383a"/>
<circle cx="363.30" cy="157.97" r="3.70" fill="#e8383a"/>
<circle cx="364.86" cy="157.63" r="3.70" fill="#e8383a"/>
<circle cx="366.43" cy="157.28" r="3.70" fill="#e8383a"/>
<circle cx="367.99" cy="156.94" r="3.70" fill="#e8383a"/>
<circle cx="369.55" cy="156.60" r="3.70" fill="#e8383a"/>
<circle cx="371.12" cy="156.27" r="3.70" fill="#e8383a"/>
<circle cx="372.68" cy="155.94" r="3.70" fill="#e8383a"/>
<circle cx="374.25" cy="155.61" r="3.70" fill="#e8383a"/>
<circle cx="375.82" cy="155.29" r="3.70" fill="#e8383a"/>
<circle cx="377.38" cy="154.95" r="3.70" fill="#e8383a"/>
<circle cx="378.91" cy="154.48" r="3.70" fill="#e8383a"/>
<circle cx="380.44" cy="154.02" r="3.70" fill="#e8383a"/>
<circle cx="381.97" cy="153.56" r="3.70" fill="#e8383a"/>
<circle cx="383.51" cy="153.10" r="3.70" fill="#e8383a"/>
<circle cx="385.04" cy="152.64" r="3.70" fill="#e8383a"/>
<circle cx="385.50" cy="152.50" r="3.70" fill="#e8383a"/>
<polygon points="233.20,247.74 241.80,247.74 237.50,240.26" fill="#1a64d9"/>
<polygon points="234.26,246.05 242.86,246.05 238.56,238.56" fill="#1a64d9"/>
<polygon points="235.32,244.35 243.92,244.35 239.62,236.87" fill="#1a64d9"/>
<polygon points="236.27,242.59 244.87,242.59 240.57,235.11" fill="#1a64d9"/>
<polygon points="237.17,240.80 245.77,240.80 241.47,233.32" fill="#1a64d9"/>
<polygon points="238.06,239.02 246.66,239.02 242.36,231.53" fill="#1a64d9"/>
<polygon points="239.00,237.25 247.60,237.25 243.30,229.77" fill="#1a64d9"/>
<polygon points="240.02,235.53 248.62,235.53 244.32,228.05" fill="#1a64d9"/>
<polygon points="241.05,233.82 249.65,233.82 245.35,226.34" fill="#1a64d9"/>
<polygon points="242.16,232.16 250.76,232.16 246.46,224.67" fill="#1a64d9"/>
<polygon points="243.39,230.58 251.99,230.58 247.69,223.10" fill="#1a64d9"/>
<polygon points="244.63,229.01 253.23,229.01 248.93,221.52" fill="#1a64d9"/>
<polygon points="245.86,227.43 254.46,227.43 250.16,219.95" fill="#1a64d9"/>
<polygon points="247.25,226.01 255.85,226.01 251.55,218.53" fill="#1a64d9"/>
<polygon points="248.77,224.70 257.37,224.70 253.07,217.22" fill="#1a64d9"/>
<polygon points="250.28,223.40 258.88,223.40 254.58,215.92" fill="#1a64d9"/>
<polygon points="252.03,222.47 260.63,222.47 256.33,214.99" fill="#1a64d9"/>
<polygon points="253.87,221.68 262.47,221.68 258.17,214.20" fill="#1a64d9"/>
<polygon points="255.83,221.32 264.43,221.32 260.13,213.84" fill="#1a64d9"/>
<polygon points="257.81,221.06 266.41,221.06 262.11,213.58" fill="#1a64d9"/>
<polygon points="259.79,221.12 268.39,221.12 264.09,213.64" fill="#1a64d9"/>
<polygon points="261.76,221.45 270.36,221.45 266.06,213.97" fill="#1a64d9"/>
<polygon points="263.70,221.87 272.30,221.87 268.00,214.38" fill="#1a64d9"/>
<polygon points="265.40,222.93 274.00,222.93 269.70,215.44" fill="#1a64d9"/>
<polygon points="266.70,223.74 275.30,223.74 271.00,216.26" fill="#1a64d9"/>
<polygon points="266.20,195.24 274.80,195.24 270.50,187.76" fill="#1a64d9"/>
<polygon points="267.78,194.01 276.38,194.01 272.08,186.53" fill="#1a64d9"/>
<polygon points="269.36,192.79 277.96,192.79 273.66,185.30" fill="#1a64d9"/>
<polygon points="270.97,191.61 279.57,191.61 275.27,184.13" fill="#1a64d9"/>
<polygon points="272.76,190.71 281.36,190.71 277.06,183.23" fill="#1a64d9"/>
<polygon points="274.55,189.82 283.15,189.82 278.85,182.34" fill="#1a64d9"/>
<polygon points="276.36,188.98 284.96,188.98 280.66,181.50" fill="#1a64d9"/>
<polygon points="278.22,188.23 286.82,188.23 282.52,180.75" fill="#1a64d9"/>
<polygon points="280.07,187.49 288.67,187.49 284.37,180.01" fill="#1a64d9"/>
<polygon points="281.83,186.55 290.43,186.55 286.13,179.07" fill="#1a64d9"/>
<polygon points="283.53,185.51 292.13,185.51 287.83,178.02" fill="#1a64d9"/>
<polygon points="285.24,184.46 293.84,184.46 289.54,176.98" fill="#1a64d9"/>
<polygon points="286.95,183.42 295.55,183.42 291.25,175.94" fill="#1a64d9"/>
<polygon points="288.66,182.38 297.26,182.38 292.96,174.90" fill="#1a64d9"/>
<polygon points="290.27,181.22 298.87,181.22 294.57,173.73" fill="#1a64d9"/>
<polygon points="291.74,179.86 300.34,179.86 296.04,172.38" fill="#1a64d9"/>
<polygon points="293.21,178.51 301.81,178.51 297.51,171.02" fill="#1a64d9"/>
<polygon points="294.70,177.16 303.30,177.16 299.00,169.68" fill="#1a64d9"/>
<polygon points="296.18,175.83 304.78,175.83 300.48,168.34" fill="#1a64d9"/>
<polygon points="297.50,174.64 306.10,174.64 301.80,167.16" fill="#1a64d9"/>
<polygon points="267.20,191.81 274.80,191.81 271.00,185.19" fill="#1a64d9"/>
<polygon points="270.70,194.81 278.30,194.81 274.50,188.19" fill="#1a64d9"/>
<polygon points="274.20,193.31 281.80,193.31 278.00,186.69" fill="#1a64d9"/>
<polygon points="266.20,208.31 273.80,208.31 270.00,201.69" fill="#1a64d9"/>
<polygon points="270.40,212.81 278.00,212.81 274.20,206.19" fill="#1a64d9"/>
<polygon points="299.50,129.81 307.10,129.81 303.30,123.19" fill="#1a64d9"/>
<polygon points="298.20,147.81 305.80,147.81 302.00,141.19" fill="#1a64d9"/>
<polygon points="301.20,147.81 308.80,147.81 305.00,141.19" fill="#1a64d9"/>
<polygon points="294.70,173.31 302.30,173.31 298.50,166.69" fill="#1a64d9"/>
<polygon points="303.20,157.81 310.80,157.81 307.00,151.19" fill="#1a64d9"/>
<polygon points="305.16,157.41 312.76,157.41 308.96,150.80" fill="#1a64d9"/>
<polygon points="307.12,157.02 314.72,157.02 310.92,150.41" fill="#1a64d9"/>
<polygon points="309.07,156.59 316.67,156.59 312.87,149.98" fill="#1a64d9"/>
<polygon points="311.01,156.10 318.61,156.10 314.81,149.49" fill="#1a64d9"/>
<polygon points="312.88,155.43 320.48,155.43 316.68,148.82" fill="#1a64d9"/>
<polygon points="314.63,154.46 322.23,154.46 318.43,147.84" fill="#1a64d9"/>
<polygon points="316.38,153.49 323.98,153.49 320.18,146.87" fill="#1a64d9"/>
<polygon points="317.93,152.23 325.53,152.23 321.73,145.62" fill="#1a64d9"/>
<polygon points="319.43,150.92 327.03,150.92 323.23,144.30" fill="#1a64d9"/>
<polygon points="320.87,149.54 328.47,149.54 324.67,142.93" fill="#1a64d9"/>
<polygon points="321.98,147.88 329.58,147.88 325.78,141.27" fill="#1a64d9"/>
<polygon points="323.09,146.22 330.69,146.22 326.89,139.60" fill="#1a64d9"/>
<polygon points="324.11,144.50 331.71,144.50 327.91,137.88" fill="#1a64d9"/>
<polygon points="325.00,142.71 332.60,142.71 328.80,136.09" fill="#1a64d9"/>
<polygon points="325.87,140.91 333.47,140.91 329.67,134.29" fill="#1a64d9"/>
<polygon points="326.66,139.07 334.26,139.07 330.46,132.46" fill="#1a64d9"/>
<polygon points="327.20,137.81 334.80,137.81 331.00,131.19" fill="#1a64d9"/>
<polygon points="328.40,104.91 336.00,104.91 332.20,98.29" fill="#1a64d9"/>
<polygon points="328.40,110.71 336.00,110.71 332.20,104.09" fill="#1a64d9"/>
<polygon points="331.10,115.68 339.10,115.68 335.10,108.72" fill="#1a64d9"/>
<polygon points="333.10,115.54 341.10,115.54 337.10,108.58" fill="#1a64d9"/>
<polygon points="335.09,115.40 343.09,115.40 339.09,108.44" fill="#1a64d9"/>
<polygon points="337.09,115.26 345.09,115.26 341.09,108.30" fill="#1a64d9"/>
<polygon points="339.08,115.12 347.08,115.12 343.08,108.16" fill="#1a64d9"/>
<polygon points="341.08,114.97 349.08,114.97 345.08,108.01" fill="#1a64d9"/>
<polygon points="343.07,114.82 351.07,114.82 347.07,107.86" fill="#1a64d9"/>
<polygon points="345.06,114.66 353.06,114.66 349.06,107.70" fill="#1a64d9"/>
<polygon points="347.06,114.51 355.06,114.51 351.06,107.55" fill="#1a64d9"/>
<polygon points="349.05,114.35 357.05,114.35 353.05,107.39" fill="#1a64d9"/>
<polygon points="351.02,114.05 359.02,114.05 355.02,107.09" fill="#1a64d9"/>
<polygon points="352.97,113.61 360.97,113.61 356.97,106.65" fill="#1a64d9"/>
<polygon points="354.92,113.17 362.92,113.17 358.92,106.21" fill="#1a64d9"/>
<polygon points="356.88,112.73 364.88,112.73 360.88,105.77" fill="#1a64d9"/>
<polygon points="358.84,112.34 366.84,112.34 362.84,105.38" fill="#1a64d9"/>
<polygon points="360.81,112.01 368.81,112.01 364.81,105.05" fill="#1a64d9"/>
<polygon points="362.78,111.68 370.78,111.68 366.78,104.72" fill="#1a64d9"/>
<polygon points="364.75,111.35 372.75,111.35 368.75,104.39" fill="#1a64d9"/>
<polygon points="366.73,111.03 374.73,111.03 370.73,104.07" fill="#1a64d9"/>
<polygon points="368.69,110.66 376.69,110.66 372.69,103.70" fill="#1a64d9"/>
<polygon points="370.66,110.29 378.66,110.29 374.66,103.33" fill="#1a64d9"/>
<polygon points="372.63,109.93 380.63,109.93 376.63,102.97" fill="#1a64d9"/>
<polygon points="374.59,109.56 382.59,109.56 378.59,102.60" fill="#1a64d9"/>
<polygon points="376.56,109.21 384.56,109.21 380.56,102.25" fill="#1a64d9"/>
<polygon points="378.53,108.87 386.53,108.87 382.53,101.91" fill="#1a64d9"/>
<polygon points="380.50,108.52 388.50,108.52 384.50,101.56" fill="#1a64d9"/>
<polygon points="381.90,108.28 389.90,108.28 385.90,101.32" fill="#1a64d9"/>
<polygon points="232.30,240.35 240.70,240.35 236.50,247.65" fill="#24a160"/>
<polygon points="232.79,238.41 241.19,238.41 236.99,245.71" fill="#24a160"/>
<polygon points="233.27,236.47 241.67,236.47 237.47,243.77" fill="#24a160"/>
<polygon points="233.76,234.53 242.16,234.53 237.96,241.83" fill="#24a160"/>
<polygon points="234.30,232.60 242.70,232.60 238.50,239.91" fill="#24a160"/>
<polygon points="234.85,230.68 243.25,230.68 239.05,237.99" fill="#24a160"/>
<polygon points="235.40,228.75 243.80,228.75 239.60,236.06" fill="#24a160"/>
<polygon points="236.00,226.85 244.40,226.85 240.20,234.16" fill="#24a160"/>
<polygon points="236.74,224.99 245.14,224.99 240.94,232.30" fill="#24a160"/>
<polygon points="237.48,223.14 245.88,223.14 241.68,230.44" fill="#24a160"/>
<polygon points="238.41,221.37 246.81,221.37 242.61,228.68" fill="#24a160"/>
<polygon points="239.47,219.67 247.87,219.67 243.67,226.98" fill="#24a160"/>
<polygon points="240.30,218.35 248.70,218.35 244.50,225.65" fill="#24a160"/>
<polygon points="243.60,213.11 251.40,213.11 247.50,219.89" fill="#24a160"/>
<polygon points="244.10,207.11 251.90,207.11 248.00,213.89" fill="#24a160"/>
<polygon points="247.60,204.61 255.40,204.61 251.50,211.39" fill="#24a160"/>
<polygon points="246.60,200.61 254.40,200.61 250.50,207.39" fill="#24a160"/>
<polygon points="250.60,198.61 258.40,198.61 254.50,205.39" fill="#24a160"/>
<polygon points="253.10,172.61 260.90,172.61 257.00,179.39" fill="#24a160"/>
<polygon points="253.10,152.61 260.90,152.61 257.00,159.39" fill="#24a160"/>
<polygon points="254.80,149.85 263.20,149.85 259.00,157.15" fill="#24a160"/>
<polygon points="256.40,148.65 264.80,148.65 260.60,155.95" fill="#24a160"/>
<polygon points="258.00,147.45 266.40,147.45 262.20,154.75" fill="#24a160"/>
<polygon points="259.79,146.70 268.19,146.70 263.99,154.01" fill="#24a160"/>
<polygon points="261.77,146.42 270.17,146.42 265.97,153.73" fill="#24a160"/>
<polygon points="263.75,146.14 272.15,146.14 267.95,153.45" fill="#24a160"/>
<polygon points="265.73,145.86 274.13,145.86 269.93,153.16" fill="#24a160"/>
<polygon points="267.73,145.77 276.13,145.77 271.93,153.08" fill="#24a160"/>
<polygon points="269.73,145.69 278.13,145.69 273.93,153.00" fill="#24a160"/>
<polygon points="271.72,145.62 280.12,145.62 275.92,152.93" fill="#24a160"/>
<polygon points="273.72,145.56 282.12,145.56 277.92,152.87" fill="#24a160"/>
<polygon points="275.72,145.50 284.12,145.50 279.92,152.81" fill="#24a160"/>
<polygon points="277.72,145.44 286.12,145.44 281.92,152.75" fill="#24a160"/>
<polygon points="279.72,145.38 288.12,145.38 283.92,152.69" fill="#24a160"/>
<polygon points="281.72,145.44 290.12,145.44 285.92,152.75" fill="#24a160"/>
<polygon points="283.71,145.64 292.11,145.64 287.91,152.94" fill="#24a160"/>
<polygon points="285.70,145.84 294.10,145.84 289.90,153.14" fill="#24a160"/>
<polygon points="287.69,146.03 296.09,146.03 291.89,153.34" fill="#24a160"/>
<polygon points="289.68,146.23 298.08,146.23 293.88,153.54" fill="#24a160"/>
<polygon points="291.67,146.39 300.07,146.39 295.87,153.70" fill="#24a160"/>
<polygon points="293.67,146.49 302.07,146.49 297.87,153.80" fill="#24a160"/>
<polygon points="295.66,146.59 304.06,146.59 299.86,153.90" fill="#24a160"/>
<polygon points="297.66,146.69 306.06,146.69 301.86,154.00" fill="#24a160"/>
<polygon points="299.66,146.79 308.06,146.79 303.86,154.10" fill="#24a160"/>
<polygon points="301.66,146.89 310.06,146.89 305.86,154.20" fill="#24a160"/>
<polygon points="303.65,146.99 312.05,146.99 307.85,154.30" fill="#24a160"/>
<polygon points="305.65,147.09 314.05,147.09 309.85,154.40" fill="#24a160"/>
<polygon points="307.65,147.19 316.05,147.19 311.85,154.50" fill="#24a160"/>
<polygon points="309.65,147.29 318.05,147.29 313.85,154.60" fill="#24a160"/>
<polygon points="310.80,147.35 319.20,147.35 315.00,154.65" fill="#24a160"/>
<polygon points="257.80,149.35 266.20,149.35 262.00,156.65" fill="#24a160"/>
<polygon points="259.77,148.98 268.17,148.98 263.97,156.29" fill="#24a160"/>
<polygon points="261.73,148.61 270.13,148.61 265.93,155.92" fill="#24a160"/>
<polygon points="263.70,148.24 272.10,148.24 267.90,155.55" fill="#24a160"/>
<polygon points="265.66,147.87 274.06,147.87 269.86,155.18" fill="#24a160"/>
<polygon points="267.66,147.77 276.06,147.77 271.86,155.08" fill="#24a160"/>
<polygon points="269.66,147.69 278.06,147.69 273.86,155.00" fill="#24a160"/>
<polygon points="271.66,147.62 280.06,147.62 275.86,154.93" fill="#24a160"/>
<polygon points="273.66,147.56 282.06,147.56 277.86,154.87" fill="#24a160"/>
<polygon points="275.65,147.50 284.05,147.50 279.85,154.81" fill="#24a160"/>
<polygon points="277.65,147.44 286.05,147.44 281.85,154.75" fill="#24a160"/>
<polygon points="279.65,147.38 288.05,147.38 283.85,154.69" fill="#24a160"/>
<polygon points="281.65,147.43 290.05,147.43 285.85,154.74" fill="#24a160"/>
<polygon points="283.64,147.63 292.04,147.63 287.84,154.94" fill="#24a160"/>
<polygon points="285.63,147.83 294.03,147.83 289.83,155.14" fill="#24a160"/>
<polygon points="287.62,148.03 296.02,148.03 291.82,155.34" fill="#24a160"/>
<polygon points="289.61,148.23 298.01,148.23 293.81,155.53" fill="#24a160"/>
<polygon points="291.60,148.39 300.00,148.39 295.80,155.69" fill="#24a160"/>
<polygon points="293.60,148.49 302.00,148.49 297.80,155.79" fill="#24a160"/>
<polygon points="295.60,148.59 304.00,148.59 299.80,155.89" fill="#24a160"/>
<polygon points="297.59,148.69 305.99,148.69 301.79,155.99" fill="#24a160"/>
<polygon points="299.59,148.79 307.99,148.79 303.79,156.09" fill="#24a160"/>
<polygon points="301.59,148.89 309.99,148.89 305.79,156.20" fill="#24a160"/>
<polygon points="303.59,149.00 311.99,149.00 307.79,156.31" fill="#24a160"/>
<polygon points="305.58,149.11 313.98,149.11 309.78,156.42" fill="#24a160"/>
<polygon points="307.58,149.22 315.98,149.22 311.78,156.53" fill="#24a160"/>
<polygon points="309.58,149.33 317.98,149.33 313.78,156.64" fill="#24a160"/>
<polygon points="309.80,149.35 318.20,149.35 314.00,156.65" fill="#24a160"/>
<polygon points="312.30,34.06 320.90,34.06 316.60,41.54" fill="#24a160"/>
<polygon points="313.57,32.26 322.17,32.26 317.87,39.75" fill="#24a160"/>
<polygon points="314.84,30.47 323.44,30.47 319.14,37.95" fill="#24a160"/>
<polygon points="316.15,28.70 324.75,28.70 320.45,36.18" fill="#24a160"/>
<polygon points="317.52,26.98 326.12,26.98 321.82,34.46" fill="#24a160"/>
<polygon points="318.90,25.26 327.50,25.26 323.20,32.74" fill="#24a160"/>
<polygon points="319.70,24.26 328.30,24.26 324.00,31.74" fill="#24a160"/>
<line x1="80.60" y1="3.60" x2="66.00" y2="92.00" stroke="#3aa36a" stroke-width="0.8"/>
<line x1="98.00" y1="3.60" x2="80.00" y2="75.00" stroke="#3a6fd8" stroke-width="0.8"/>
<line x1="120.00" y1="3.60" x2="78.00" y2="126.00" stroke="#e84a4a" stroke-width="0.8"/>
<rect x="35.9" y="3.6" width="149.80" height="241.40" fill="none" stroke="#333" stroke-width="1"/>
<rect x="237.5" y="3.6" width="150.00" height="241.40" fill="none" stroke="#333" stroke-width="1"/>
<line x1="35.90" y1="245.00" x2="35.90" y2="249.80" stroke="#333" stroke-width="1.0"/>
<line x1="35.90" y1="3.60" x2="35.90" y2="8.40" stroke="#333" stroke-width="1.0"/>
<text x="35.90" y="259.70" text-anchor="middle" font-size="8.8" >0</text>
<line x1="54.62" y1="245.00" x2="54.62" y2="247.40" stroke="#333" stroke-width="1.0"/>
<line x1="54.62" y1="3.60" x2="54.62" y2="6.00" stroke="#333" stroke-width="1.0"/>
<line x1="73.35" y1="245.00" x2="73.35" y2="249.80" stroke="#333" stroke-width="1.0"/>
<line x1="73.35" y1="3.60" x2="73.35" y2="8.40" stroke="#333" stroke-width="1.0"/>
<text x="73.35" y="259.70" text-anchor="middle" font-size="8.8" >100000</text>
<line x1="92.07" y1="245.00" x2="92.07" y2="247.40" stroke="#333" stroke-width="1.0"/>
<line x1="92.07" y1="3.60" x2="92.07" y2="6.00" stroke="#333" stroke-width="1.0"/>
<line x1="110.80" y1="245.00" x2="110.80" y2="249.80" stroke="#333" stroke-width="1.0"/>
<line x1="110.80" y1="3.60" x2="110.80" y2="8.40" stroke="#333" stroke-width="1.0"/>
<text x="110.80" y="259.70" text-anchor="middle" font-size="8.8" >200000</text>
<line x1="129.52" y1="245.00" x2="129.52" y2="247.40" stroke="#333" stroke-width="1.0"/>
<line x1="129.52" y1="3.60" x2="129.52" y2="6.00" stroke="#333" stroke-width="1.0"/>
<line x1="148.25" y1="245.00" x2="148.25" y2="249.80" stroke="#333" stroke-width="1.0"/>
<line x1="148.25" y1="3.60" x2="148.25" y2="8.40" stroke="#333" stroke-width="1.0"/>
<text x="148.25" y="259.70" text-anchor="middle" font-size="8.8" >300000</text>
<line x1="166.97" y1="245.00" x2="166.97" y2="247.40" stroke="#333" stroke-width="1.0"/>
<line x1="166.97" y1="3.60" x2="166.97" y2="6.00" stroke="#333" stroke-width="1.0"/>
<line x1="185.70" y1="245.00" x2="185.70" y2="249.80" stroke="#333" stroke-width="1.0"/>
<line x1="185.70" y1="3.60" x2="185.70" y2="8.40" stroke="#333" stroke-width="1.0"/>
<text x="185.70" y="259.70" text-anchor="middle" font-size="8.8" >400000</text>
<line x1="237.50" y1="245.00" x2="237.50" y2="249.80" stroke="#333" stroke-width="1.0"/>
<line x1="237.50" y1="3.60" x2="237.50" y2="8.40" stroke="#333" stroke-width="1.0"/>
<text x="237.50" y="259.70" text-anchor="middle" font-size="8.8" >0</text>
<line x1="256.25" y1="245.00" x2="256.25" y2="247.40" stroke="#333" stroke-width="1.0"/>
<line x1="256.25" y1="3.60" x2="256.25" y2="6.00" stroke="#333" stroke-width="1.0"/>
<line x1="275.00" y1="245.00" x2="275.00" y2="249.80" stroke="#333" stroke-width="1.0"/>
<line x1="275.00" y1="3.60" x2="275.00" y2="8.40" stroke="#333" stroke-width="1.0"/>
<text x="275.00" y="259.70" text-anchor="middle" font-size="8.8" >100000</text>
<line x1="293.75" y1="245.00" x2="293.75" y2="247.40" stroke="#333" stroke-width="1.0"/>
<line x1="293.75" y1="3.60" x2="293.75" y2="6.00" stroke="#333" stroke-width="1.0"/>
<line x1="312.50" y1="245.00" x2="312.50" y2="249.80" stroke="#333" stroke-width="1.0"/>
<line x1="312.50" y1="3.60" x2="312.50" y2="8.40" stroke="#333" stroke-width="1.0"/>
<text x="312.50" y="259.70" text-anchor="middle" font-size="8.8" >200000</text>
<line x1="331.25" y1="245.00" x2="331.25" y2="247.40" stroke="#333" stroke-width="1.0"/>
<line x1="331.25" y1="3.60" x2="331.25" y2="6.00" stroke="#333" stroke-width="1.0"/>
<line x1="350.00" y1="245.00" x2="350.00" y2="249.80" stroke="#333" stroke-width="1.0"/>
<line x1="350.00" y1="3.60" x2="350.00" y2="8.40" stroke="#333" stroke-width="1.0"/>
<text x="350.00" y="259.70" text-anchor="middle" font-size="8.8" >300000</text>
<line x1="368.75" y1="245.00" x2="368.75" y2="247.40" stroke="#333" stroke-width="1.0"/>
<line x1="368.75" y1="3.60" x2="368.75" y2="6.00" stroke="#333" stroke-width="1.0"/>
<line x1="387.50" y1="245.00" x2="387.50" y2="249.80" stroke="#333" stroke-width="1.0"/>
<line x1="387.50" y1="3.60" x2="387.50" y2="8.40" stroke="#333" stroke-width="1.0"/>
<text x="387.50" y="259.70" text-anchor="middle" font-size="8.8" >400000</text>
<line x1="33.50" y1="245.00" x2="35.90" y2="245.00" stroke="#333" stroke-width="1.0"/>
<line x1="185.70" y1="245.00" x2="183.30" y2="245.00" stroke="#333" stroke-width="1.0"/>
<line x1="33.50" y1="225.20" x2="35.90" y2="225.20" stroke="#333" stroke-width="1.0"/>
<line x1="185.70" y1="225.20" x2="183.30" y2="225.20" stroke="#333" stroke-width="1.0"/>
<line x1="33.50" y1="209.83" x2="35.90" y2="209.83" stroke="#333" stroke-width="1.0"/>
<line x1="185.70" y1="209.83" x2="183.30" y2="209.83" stroke="#333" stroke-width="1.0"/>
<line x1="33.50" y1="197.28" x2="35.90" y2="197.28" stroke="#333" stroke-width="1.0"/>
<line x1="185.70" y1="197.28" x2="183.30" y2="197.28" stroke="#333" stroke-width="1.0"/>
<line x1="33.50" y1="186.67" x2="35.90" y2="186.67" stroke="#333" stroke-width="1.0"/>
<line x1="185.70" y1="186.67" x2="183.30" y2="186.67" stroke="#333" stroke-width="1.0"/>
<line x1="33.50" y1="177.48" x2="35.90" y2="177.48" stroke="#333" stroke-width="1.0"/>
<line x1="185.70" y1="177.48" x2="183.30" y2="177.48" stroke="#333" stroke-width="1.0"/>
<line x1="33.50" y1="169.37" x2="35.90" y2="169.37" stroke="#333" stroke-width="1.0"/>
<line x1="185.70" y1="169.37" x2="183.30" y2="169.37" stroke="#333" stroke-width="1.0"/>
<line x1="31.10" y1="162.12" x2="35.90" y2="162.12" stroke="#333" stroke-width="1.0"/>
<line x1="185.70" y1="162.12" x2="180.90" y2="162.12" stroke="#333" stroke-width="1.0"/>
<line x1="33.50" y1="114.40" x2="35.90" y2="114.40" stroke="#333" stroke-width="1.0"/>
<line x1="185.70" y1="114.40" x2="183.30" y2="114.40" stroke="#333" stroke-width="1.0"/>
<line x1="33.50" y1="86.48" x2="35.90" y2="86.48" stroke="#333" stroke-width="1.0"/>
<line x1="185.70" y1="86.48" x2="183.30" y2="86.48" stroke="#333" stroke-width="1.0"/>
<line x1="33.50" y1="66.68" x2="35.90" y2="66.68" stroke="#333" stroke-width="1.0"/>
<line x1="185.70" y1="66.68" x2="183.30" y2="66.68" stroke="#333" stroke-width="1.0"/>
<line x1="33.50" y1="51.32" x2="35.90" y2="51.32" stroke="#333" stroke-width="1.0"/>
<line x1="185.70" y1="51.32" x2="183.30" y2="51.32" stroke="#333" stroke-width="1.0"/>
<line x1="33.50" y1="38.77" x2="35.90" y2="38.77" stroke="#333" stroke-width="1.0"/>
<line x1="185.70" y1="38.77" x2="183.30" y2="38.77" stroke="#333" stroke-width="1.0"/>
<line x1="33.50" y1="28.15" x2="35.90" y2="28.15" stroke="#333" stroke-width="1.0"/>
<line x1="185.70" y1="28.15" x2="183.30" y2="28.15" stroke="#333" stroke-width="1.0"/>
<line x1="33.50" y1="18.96" x2="35.90" y2="18.96" stroke="#333" stroke-width="1.0"/>
<line x1="185.70" y1="18.96" x2="183.30" y2="18.96" stroke="#333" stroke-width="1.0"/>
<line x1="33.50" y1="10.85" x2="35.90" y2="10.85" stroke="#333" stroke-width="1.0"/>
<line x1="185.70" y1="10.85" x2="183.30" y2="10.85" stroke="#333" stroke-width="1.0"/>
<line x1="31.10" y1="3.60" x2="35.90" y2="3.60" stroke="#333" stroke-width="1.0"/>
<line x1="185.70" y1="3.60" x2="180.90" y2="3.60" stroke="#333" stroke-width="1.0"/>
<text x="29.10" y="248.50" text-anchor="end" font-size="8.8" >3</text>
<text x="29.10" y="213.33" text-anchor="end" font-size="8.8" >5</text>
<text x="29.10" y="165.62" text-anchor="end" font-size="8.8" >10</text>
<text x="29.10" y="89.98" text-anchor="end" font-size="8.8" >30</text>
<text x="29.10" y="54.82" text-anchor="end" font-size="8.8" >50</text>
<text x="29.10" y="7.10" text-anchor="end" font-size="8.8" >100</text>
<line x1="232.70" y1="245.00" x2="237.50" y2="245.00" stroke="#333" stroke-width="1.0"/>
<line x1="387.50" y1="245.00" x2="382.70" y2="245.00" stroke="#333" stroke-width="1.0"/>
<text x="230.20" y="248.50" text-anchor="end" font-size="8.8" >0</text>
<line x1="235.10" y1="214.82" x2="237.50" y2="214.82" stroke="#333" stroke-width="1.0"/>
<line x1="387.50" y1="214.82" x2="385.10" y2="214.82" stroke="#333" stroke-width="1.0"/>
<line x1="232.70" y1="184.65" x2="237.50" y2="184.65" stroke="#333" stroke-width="1.0"/>
<line x1="387.50" y1="184.65" x2="382.70" y2="184.65" stroke="#333" stroke-width="1.0"/>
<text x="230.20" y="188.15" text-anchor="end" font-size="8.8" >500</text>
<line x1="235.10" y1="154.47" x2="237.50" y2="154.47" stroke="#333" stroke-width="1.0"/>
<line x1="387.50" y1="154.47" x2="385.10" y2="154.47" stroke="#333" stroke-width="1.0"/>
<line x1="232.70" y1="124.30" x2="237.50" y2="124.30" stroke="#333" stroke-width="1.0"/>
<line x1="387.50" y1="124.30" x2="382.70" y2="124.30" stroke="#333" stroke-width="1.0"/>
<text x="230.20" y="127.80" text-anchor="end" font-size="8.8" >1000</text>
<line x1="235.10" y1="94.12" x2="237.50" y2="94.12" stroke="#333" stroke-width="1.0"/>
<line x1="387.50" y1="94.12" x2="385.10" y2="94.12" stroke="#333" stroke-width="1.0"/>
<line x1="232.70" y1="63.95" x2="237.50" y2="63.95" stroke="#333" stroke-width="1.0"/>
<line x1="387.50" y1="63.95" x2="382.70" y2="63.95" stroke="#333" stroke-width="1.0"/>
<text x="230.20" y="67.45" text-anchor="end" font-size="8.8" >1500</text>
<line x1="235.10" y1="33.78" x2="237.50" y2="33.78" stroke="#333" stroke-width="1.0"/>
<line x1="387.50" y1="33.78" x2="385.10" y2="33.78" stroke="#333" stroke-width="1.0"/>
<line x1="232.70" y1="3.60" x2="237.50" y2="3.60" stroke="#333" stroke-width="1.0"/>
<line x1="387.50" y1="3.60" x2="382.70" y2="3.60" stroke="#333" stroke-width="1.0"/>
<text x="230.20" y="7.10" text-anchor="end" font-size="8.8" >2000</text>
<text x="0.90" y="9.60" text-anchor="start" font-size="10.8" textLength="9.0" lengthAdjust="spacingAndGlyphs" style="font-family:Liberation Sans,sans-serif;font-weight:bold;fill:#111">A</text>
<text x="195.40" y="9.60" text-anchor="start" font-size="10.8" textLength="8.5" lengthAdjust="spacingAndGlyphs" style="font-family:Liberation Sans,sans-serif;font-weight:bold;fill:#111">B</text>
<text x="2.00" y="128.00" text-anchor="start" font-size="11" font-style="italic">A/d</text>
<text x="195.80" y="129.40" text-anchor="start" font-size="11" font-style="italic">λ/d</text>
<text x="107.90" y="275.00" text-anchor="start" font-size="10.5" font-style="italic">t</text>
<text x="111.40" y="271.30" text-anchor="start" font-size="7.5" style="stroke-width:0.5px">*</text>
<text x="308.80" y="273.40" text-anchor="start" font-size="10.5" font-style="italic">t</text>
<text x="312.40" y="270.00" text-anchor="start" font-size="7.5" style="stroke-width:0.5px">*</text>
</svg></body></html>
